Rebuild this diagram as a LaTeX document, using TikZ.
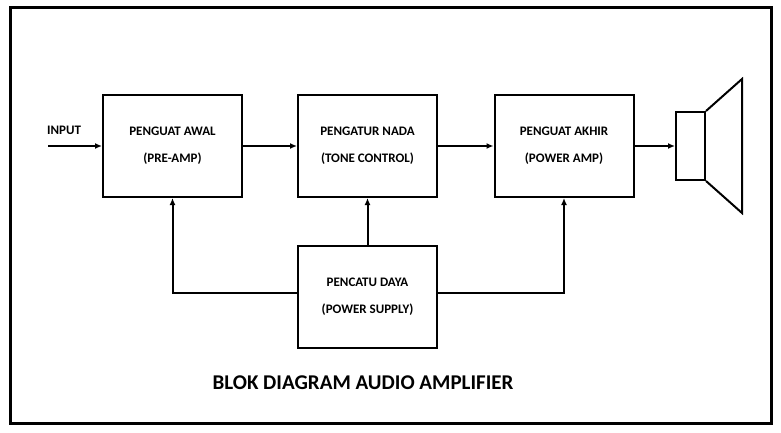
\documentclass[tikz,border=0pt]{standalone}
\usepackage{fontspec}
\setmainfont{Carlito}
\usetikzlibrary{positioning,arrows.meta}

\begin{document}
\begin{tikzpicture}[x=1pt,y=-1pt,line width=2pt,
    blok/.style={draw,minimum width=139pt,minimum height=102pt,align=center,
        font=\bfseries\fontsize{13}{27}\selectfont},
    >={Latex[length=7pt,width=6pt]}]
% Frame
\useasboundingbox (0,0) rectangle (781,433);
\draw[line width=3pt] (10,8) rectangle (771,423);
% Blocks
\node[blok] (pre) at (172.5,146){PENGUAT AWAL\\(PRE-AMP)};
\node[blok] (tone) at (367.5,146){PENGATUR NADA\\(TONE CONTROL)};
\node[blok] (power) at (564,146){PENGUAT AKHIR\\(POWER AMP)};
\node[blok] (supply) at (367.5,296.5){PENCATU DAYA\\(POWER SUPPLY)};
% Speaker
\node[draw,minimum width=29pt,minimum height=68pt,inner sep=0pt] (spk) at (690.5,146){};
\draw (spk.north east) -- (742,79) -- (742,213) -- (spk.south east);
% Signal path
\coordinate (in) at (48,146);
\node[font=\bfseries\fontsize{13}{14}\selectfont] (inlabel) at (64,130){INPUT};
\draw[->] (in) -- (pre);
\draw[->] (pre) -- (tone);
\draw[->] (tone) -- (power);
\draw[->] (power) -- (spk);
% Supply lines
\coordinate (sl) at (298,293);
\coordinate (sr) at (437,293);
\draw[->] (sl) -| (pre.south);
\draw[->] (supply) -- (tone);
\draw[->] (sr) -| (power.south);
% Title
\node[font=\bfseries\fontsize{21}{24}\selectfont] (title) at (363,383){BLOK DIAGRAM AUDIO AMPLIFIER};
\end{tikzpicture}
\end{document}
